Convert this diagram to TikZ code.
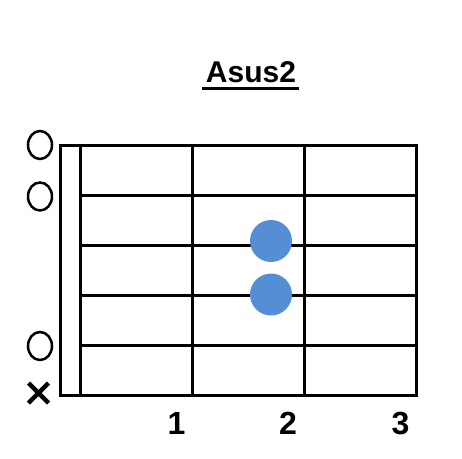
\documentclass[tikz,border=0pt]{standalone}
\usepackage{fontspec}
\setmainfont{Liberation Sans}
\usepackage{tikz}
\usetikzlibrary{calc}
\usepackage{xcolor}
\definecolor{FingerBlue}{HTML}{558ED5}

\tikzset{
    fretnum/.style={font=\bfseries\fontsize{32}{32}\selectfont,inner sep=0pt},
    openmark/.style={line width=2.5pt},
}

\begin{document}
\begin{tikzpicture}[x=1pt,y=-1pt,line width=3pt]
    \useasboundingbox (0,0) rectangle (462,458);
    \node[font=\bfseries\fontsize{30}{36}\selectfont,inner sep=0pt,anchor=base] (title) at (251,82) {Asus2};
    \draw ($(title.base west)+(-2,6)$) -- ($(title.base east)+(1,6)$);
    % board
    \draw (60,145) rectangle (416,395);
    \foreach \y in {195,245,295,345} {
     \draw (80,\y) -- (416,\y);
    }
    \foreach \x in {80,192,304} {
     \draw (\x,145) -- (\x,395);
    }
    % fingers
    \foreach \y in {241,294.5} {
     \fill[FingerBlue] (271,\y) circle (21);
    }
    % open and muted strings
    \foreach \y in {145,196.5,346} {
     \draw[openmark] (40,\y) ellipse (12 and 14);
    }
    \draw[line width=4.5pt] (28.5,383) -- (48.5,403) (48.5,383) -- (28.5,403);
    \foreach \x/\n in {176.5/1,288/2,400.5/3} {
     \node[fretnum] (fret\n) at (\x,423.5) {\n};
    }
\end{tikzpicture}
\end{document}
